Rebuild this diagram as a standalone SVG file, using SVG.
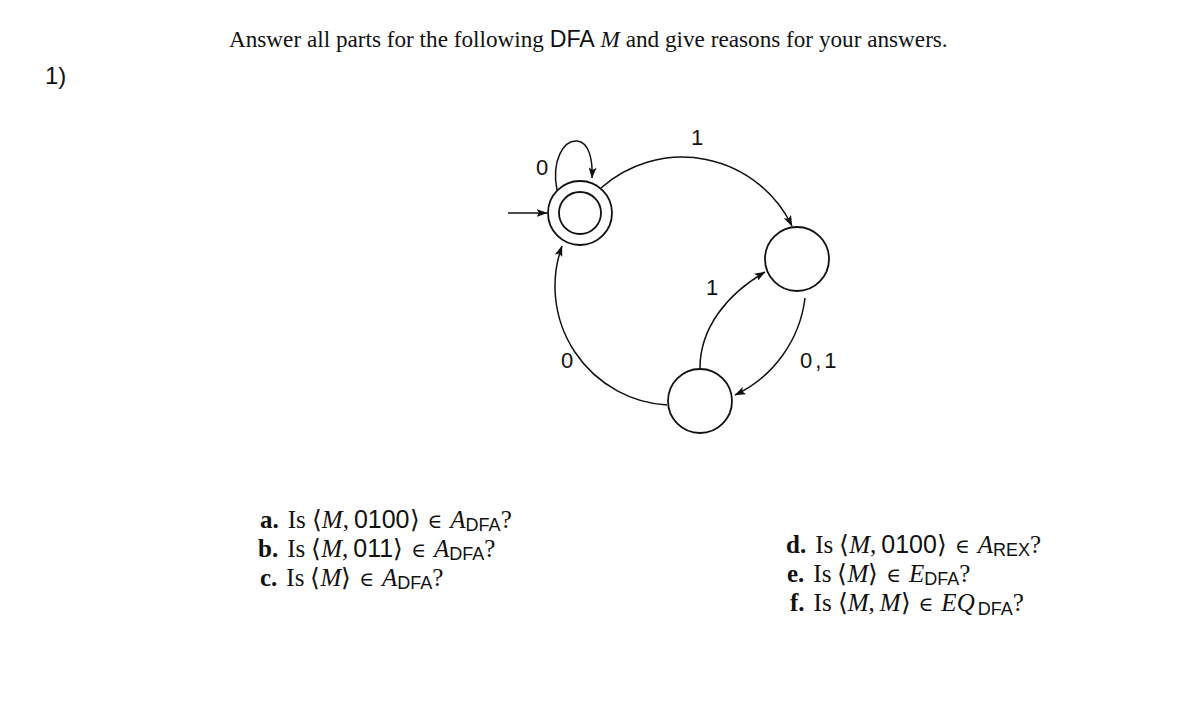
<svg xmlns="http://www.w3.org/2000/svg" width="1190" height="714" viewBox="0 0 1190 714">
<style>
.serif{font-family:"Liberation Serif",serif;fill:#111;}
.sans{font-family:"Liberation Sans",Arial,sans-serif;}
.lbl{font-family:"Liberation Sans",Arial,sans-serif;font-size:22px;fill:#111;}
.tt{font-family:"Liberation Sans",Arial,sans-serif;}
.st{fill:#fff;stroke:#111;stroke-width:1.8;}
.edge{fill:none;stroke:#111;stroke-width:1.5;marker-end:url(#ah);}
.it{font-style:italic;}
.b{font-weight:bold;}
.sub{font-family:"Liberation Sans",Arial,sans-serif;font-size:18px;}
.q{font-size:25px;}
.el{font-family:"DejaVu Serif",serif;font-size:20px;}
</style>
<defs>
<marker id="ah" viewBox="0 0 11 8" refX="10.5" refY="4" markerWidth="11" markerHeight="8" markerUnits="userSpaceOnUse" orient="auto">
<path d="M0,0 L11,4 L0,8 L2.5,4 Z" fill="#111"/>
</marker>
</defs>
<rect width="1190" height="714" fill="#fff"/>
<text class="serif" x="229" y="47" font-size="23.2">Answer all parts for the following <tspan class="sans">DFA</tspan> <tspan class="it">M</tspan> and give reasons for your answers.</text>
<text class="sans" x="45" y="84" font-size="24" fill="#111">1)</text>
<g id="connectors">
<path class="edge" d="M508,213 L547,213"/>
<path class="edge" d="M557,190 C551,160 564,140 577,141 C589,142 593,160 592,178"/>
<path class="edge" d="M601,188 A122,122 0 0 1 792,226"/>
<path class="edge" d="M805,298 A124,124 0 0 1 735,395"/>
<path class="edge" d="M667,405 A119,119 0 0 1 562,246"/>
<path class="edge" d="M700,368 C700,328 727,294 765,272"/>
</g>
<g id="q0"><circle class="st" cx="580" cy="213" r="32"/><circle class="st" cx="580" cy="213" r="21"/></g>
<g id="q1"><circle class="st" cx="797" cy="259" r="32"/></g>
<g id="q2"><circle class="st" cx="700" cy="401" r="32"/></g>
<g id="labels">
<text class="lbl" x="542" y="175" text-anchor="middle">0</text>
<text class="lbl" x="697" y="145" text-anchor="middle">1</text>
<text class="lbl" x="712" y="295" text-anchor="middle">1</text>
<text class="lbl" x="567" y="368" text-anchor="middle">0</text>
<text class="lbl" x="800" y="368" letter-spacing="3">0,1</text>
</g>
<g id="questions" class="serif q">
<text x="260" y="528"><tspan class="b">a.</tspan><tspan dx="9">Is</tspan><tspan dx="6">⟨</tspan><tspan class="it">M</tspan>,<tspan class="tt" dx="5">0100</tspan>⟩<tspan class="el" dx="8">∈</tspan><tspan class="it" dx="8">A</tspan><tspan class="sub" dy="3">DFA</tspan><tspan dy="-3">?</tspan></text>
<text x="258" y="557"><tspan class="b">b.</tspan><tspan dx="9">Is</tspan><tspan dx="6">⟨</tspan><tspan class="it">M</tspan>,<tspan class="tt" dx="5">011</tspan>⟩<tspan class="el" dx="8">∈</tspan><tspan class="it" dx="8">A</tspan><tspan class="sub" dy="3">DFA</tspan><tspan dy="-3">?</tspan></text>
<text x="260" y="586"><tspan class="b">c.</tspan><tspan dx="9">Is</tspan><tspan dx="6">⟨</tspan><tspan class="it">M</tspan>⟩<tspan class="el" dx="8">∈</tspan><tspan class="it" dx="8">A</tspan><tspan class="sub" dy="3">DFA</tspan><tspan dy="-3">?</tspan></text>
<text x="786" y="553"><tspan class="b">d.</tspan><tspan dx="9">Is</tspan><tspan dx="6">⟨</tspan><tspan class="it">M</tspan>,<tspan class="tt" dx="5">0100</tspan>⟩<tspan class="el" dx="8">∈</tspan><tspan class="it" dx="8">A</tspan><tspan class="sub" dy="3">REX</tspan><tspan dy="-3">?</tspan></text>
<text x="787" y="582"><tspan class="b">e.</tspan><tspan dx="9">Is</tspan><tspan dx="6">⟨</tspan><tspan class="it">M</tspan>⟩<tspan class="el" dx="8">∈</tspan><tspan class="it" dx="8">E</tspan><tspan class="sub" dy="3">DFA</tspan><tspan dy="-3">?</tspan></text>
<text x="790" y="611"><tspan class="b">f.</tspan><tspan dx="9">Is</tspan><tspan dx="6">⟨</tspan><tspan class="it">M</tspan>,<tspan class="it" dx="5">M</tspan>⟩<tspan class="el" dx="8">∈</tspan><tspan class="it" dx="8">EQ</tspan><tspan class="sub" dx="3" dy="4">DFA</tspan><tspan dy="-4">?</tspan></text>
</g>
</svg>
